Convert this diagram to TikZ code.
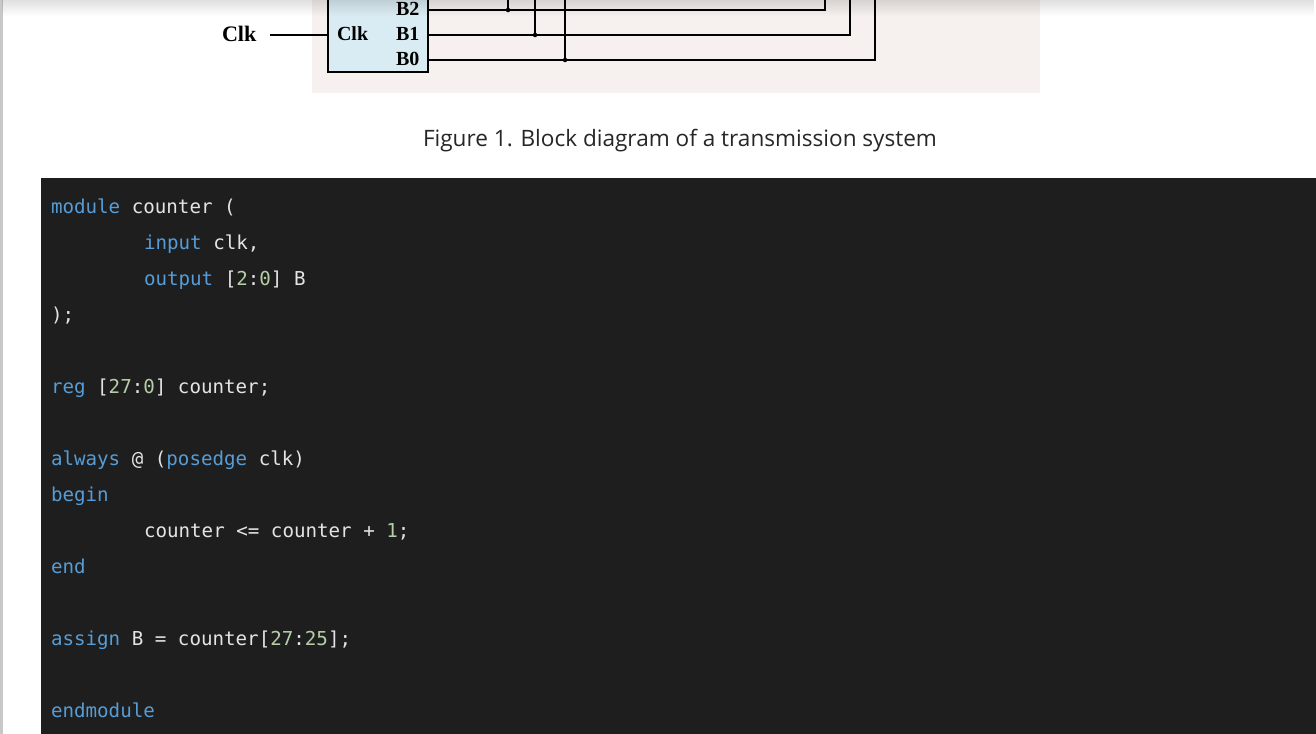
\documentclass[tikz,border=0pt]{standalone}
\usepackage{fontspec}
\usetikzlibrary{fadings}
\setmainfont{Liberation Serif}
\newfontfamily\capfont{Open Sans}
\newfontfamily\codefont{DejaVu Sans Mono}
\definecolor{panelbg}{HTML}{F6F1EE}
\definecolor{boxbg}{HTML}{DAECF3}
\definecolor{codebg}{HTML}{1E1E1E}
\definecolor{kw}{HTML}{569CD6}
\definecolor{txt}{HTML}{E4E4E4}
\definecolor{num}{HTML}{B5CEA8}
\definecolor{railgray}{HTML}{C8C8C8}
\newcommand{\K}[1]{\textcolor{kw}{#1}}
\newcommand{\N}[1]{\textcolor{num}{#1}}
\tikzset{
  x=0.75pt,y=-0.75pt,
  codeline/.style={anchor=base west,inner sep=0pt,outer sep=0pt,text=txt,font=\codefont\fontsize{14.38pt}{16pt}\selectfont},
  lab/.style={anchor=base west,inner sep=0pt,outer sep=0pt,font=\bfseries\fontsize{15pt}{16pt}\selectfont},
  wire/.style={draw=black,line width=1.4pt,line cap=rect},
  jdot/.style={circle,fill=black,inner sep=0pt,minimum size=3.4pt},
}
\begin{document}
\begin{tikzpicture}
\useasboundingbox (0,0) rectangle (1316,734);
\fill[white] (0,0) rectangle (1316,734);
\fill[panelbg] (312,0) rectangle (1040,93);
% block
\node[draw=black,line width=1.4pt,fill=boxbg,minimum width=74.6pt,minimum height=63pt,inner sep=0pt,outer sep=0pt] (box) at (378,30) {};
\node[lab] (lB2) at (396,16) {B2};
\node[lab] (lB1) at (396,41) {B1};
\node[lab] (lB0) at (396,66) {B0};
\node[lab] (lClk) at (337,41) {Clk};
\node[lab,font=\bfseries\fontsize{16.6pt}{18pt}\selectfont] (clkin) at (222,42) {Clk};
% wires
\coordinate (clkstart) at (270,35);
\coordinate (boxclk) at (box.west |- clkstart);
\draw[wire,line cap=butt] (clkstart) -- (boxclk);
\coordinate (b2s) at (428,10); \coordinate (b2e) at (825,10); \coordinate (b2t) at (825,0);
\coordinate (b1s) at (428,35); \coordinate (b1e) at (850,35); \coordinate (b1t) at (850,0);
\coordinate (b0s) at (428,60); \coordinate (b0e) at (875,60); \coordinate (b0t) at (875,0);
\draw[wire] (b2s) -- (b2e) -- (b2t);
\draw[wire] (b1s) -- (b1e) -- (b1t);
\draw[wire] (b0s) -- (b0e) -- (b0t);
\node[jdot] (j2) at (508,10) {};
\node[jdot] (j1) at (535,35) {};
\node[jdot] (j0) at (565,60) {};
\coordinate (t2) at (508,0); \coordinate (t1) at (535,0); \coordinate (t0) at (565,0);
\draw[wire,line cap=butt] (t2) -- (j2.center);
\draw[wire,line cap=butt] (t1) -- (j1.center);
\draw[wire,line cap=butt] (t0) -- (j0.center);
% caption
\node[anchor=base,inner sep=0pt,text=black!85,font=\capfont\fontsize{16.93pt}{20pt}\selectfont] (cap) at (680,146.5) {Figure 1. Block diagram of a transmission system};
% code
\fill[codebg] (41,178) rectangle (1316,734);
\node[codeline] (c1) at (51,213.4) {\K{module} counter (};
\node[codeline] (c2) at (144,249.4) {\K{input} clk,};
\node[codeline] (c3) at (144,285.4) {\K{output} [\N{2}:\N{0}] B};
\node[codeline] (c4) at (51,321.4) {);};
\node[codeline] (c5) at (51,393.4) {\K{reg} [\N{27}:\N{0}] counter;};
\node[codeline] (c6) at (51,465.4) {\K{always} @ (\K{posedge} clk)};
\node[codeline] (c7) at (51,501.4) {\K{begin}};
\node[codeline] (c8) at (144,537.4) {counter <= counter + \N{1};};
\node[codeline] (c9) at (51,573.4) {\K{end}};
\node[codeline] (c10) at (51,645.4) {\K{assign} B = counter[\N{27}:\N{25}];};
\node[codeline] (c11) at (51,717.4) {\K{endmodule}};
% page edge
\fill[railgray] (0,0) rectangle (3,734);
\fill[black,opacity=0.12,path fading=south] (3,0) rectangle (1316,16);
\end{tikzpicture}
\end{document}
